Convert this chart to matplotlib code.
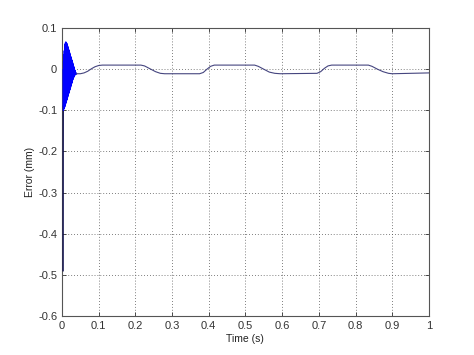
import matplotlib
matplotlib.use("Agg")
import matplotlib.pyplot as plt
import numpy as np

plt.rcParams['font.family'] = ['Liberation Sans', 'DejaVu Sans']

# initial drop
t_start = [0.0030, 0.0032, 0.0034]
e_start = [-0.49, -0.20, -0.09]

# dense oscillation: peaks (hi) and troughs (lo)
t_hi = [0.0037, 0.004, 0.005, 0.006, 0.007, 0.008, 0.009, 0.010, 0.011, 0.012,
        0.013, 0.014, 0.015, 0.016, 0.017, 0.018, 0.019, 0.020, 0.021, 0.022,
        0.023, 0.024, 0.025, 0.026, 0.027, 0.028, 0.029, 0.030, 0.031, 0.032,
        0.033, 0.034, 0.035, 0.036, 0.037, 0.038, 0.039]
e_hi = [0.000, 0.020, 0.035, 0.045, 0.055, 0.060, 0.064, 0.066, 0.066, 0.065,
        0.063, 0.061, 0.058, 0.055, 0.052, 0.049, 0.046, 0.043, 0.040, 0.037,
        0.034, 0.031, 0.028, 0.025, 0.022, 0.019, 0.016, 0.013, 0.010, 0.007,
        0.004, 0.001, -0.002, -0.005, -0.007, -0.009, -0.010]
t_lo = [0.0039, 0.0045, 0.0055, 0.0065, 0.0075, 0.0085, 0.0095, 0.0105, 0.0115, 0.0125,
        0.0135, 0.0145, 0.0155, 0.0165, 0.0175, 0.0185, 0.0195, 0.0205, 0.0215, 0.0225,
        0.0235, 0.0245, 0.0255, 0.0265, 0.0275, 0.0285, 0.0295, 0.0305, 0.0315, 0.0325,
        0.0335, 0.0345, 0.0355, 0.0365, 0.0375, 0.0385, 0.0395]
e_lo = [-0.100, -0.098, -0.096, -0.094, -0.092, -0.089, -0.086, -0.083, -0.080, -0.077,
        -0.074, -0.071, -0.068, -0.065, -0.062, -0.059, -0.056, -0.053, -0.050, -0.047,
        -0.044, -0.041, -0.038, -0.035, -0.032, -0.029, -0.026, -0.023, -0.021, -0.019,
        -0.017, -0.015, -0.014, -0.013, -0.012, -0.012, -0.011]

# slow periodic part
t_slow = [0.040, 0.050, 0.060, 0.070, 0.080, 0.090, 0.100, 0.110, 0.215, 0.225,
          0.240, 0.255, 0.268, 0.280, 0.375, 0.385, 0.395, 0.405, 0.415, 0.525,
          0.535, 0.550, 0.565, 0.580, 0.595, 0.695, 0.705, 0.715, 0.725, 0.735,
          0.835, 0.845, 0.860, 0.875, 0.890, 0.900, 0.950, 1.000]
e_slow = [-0.011, -0.011, -0.009, -0.005, 0.001, 0.006, 0.009, 0.010, 0.010, 0.008,
          0.001, -0.006, -0.010, -0.011, -0.011, -0.008, 0.000, 0.007, 0.010, 0.010,
          0.007, 0.000, -0.007, -0.010, -0.011, -0.010, -0.006, 0.002, 0.008, 0.010,
          0.010, 0.007, 0.000, -0.006, -0.010, -0.011, -0.010, -0.009]

x_ticks = [0, 0.1, 0.2, 0.3, 0.4, 0.5, 0.6, 0.7, 0.8, 0.9, 1]
x_labels = ['0', '0.1', '0.2', '0.3', '0.4', '0.5', '0.6', '0.7', '0.8', '0.9', '1']
y_ticks = [-0.6, -0.5, -0.4, -0.3, -0.2, -0.1, 0, 0.1]
y_labels = ['-0.6', '-0.5', '-0.4', '-0.3', '-0.2', '-0.1', '0', '0.1']

# assemble the oscillation by interleaving peaks and troughs
t_osc, e_osc = [], []
for a, b, c, d in zip(t_hi, e_hi, t_lo, e_lo):
    t_osc += [a, c]
    e_osc += [b, d]

fig = plt.figure(figsize=(4.74, 3.55), dpi=100)
ax = fig.add_axes([0.1308, 0.1099, 0.774, 0.811])
ax.plot(t_start, e_start, color='#101050', linewidth=1.0, zorder=3)
ax.plot([t_start[-1]] + t_osc + [t_slow[0]], [e_start[-1]] + e_osc + [e_slow[0]],
        color='#0000ff', linewidth=0.8, zorder=3)
ax.plot(t_slow, e_slow, color='#45457f', linewidth=0.8, zorder=3)

ax.set_xlim(0, 1)
ax.set_ylim(-0.6, 0.1)
ax.set_xticks(x_ticks)
ax.set_xticklabels(x_labels)
ax.set_yticks(y_ticks)
ax.set_yticklabels(y_labels)
ax.tick_params(direction='in', top=True, right=True, length=3, labelsize=8,
               colors='#333333', width=0.6)
ax.grid(True, linestyle=(0, (1, 2.5)), color='#555555', linewidth=0.6)
for s in ax.spines.values():
    s.set_color('#555555')
    s.set_linewidth(0.8)
ax.set_xlabel('Time (s)', fontsize=7.5, color='#222222', labelpad=2)
ax.set_ylabel('Error (mm)', fontsize=7.5, color='#222222', labelpad=2)

fig.savefig('out.png', dpi=100)
